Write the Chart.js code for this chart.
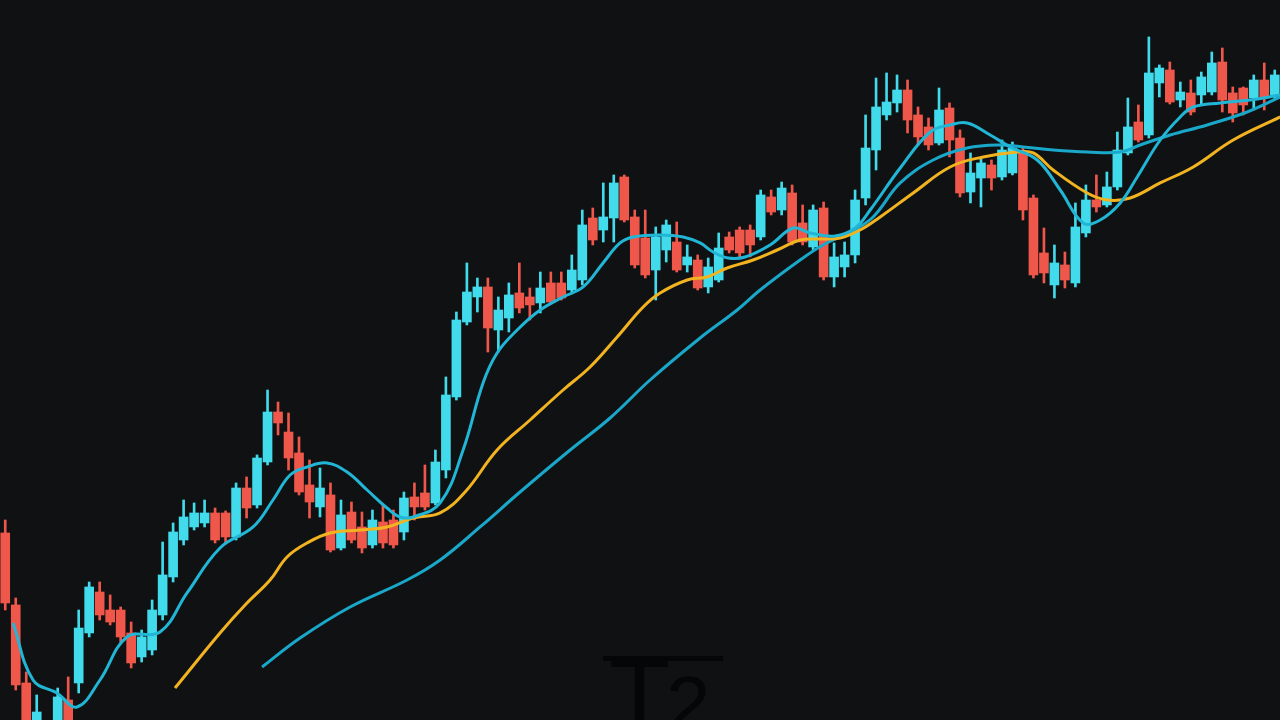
<!DOCTYPE html>
<html lang="en">
<head>
<meta charset="UTF-8">
<title>Candles</title>
<script src="https://cdn.jsdelivr.net/npm/chart.js"></script>
<style>
  html, body { margin: 0; padding: 0; background: #0f1113; overflow: hidden; }
  #wrap { position: relative; width: 1280px; height: 720px; background: #0f1113; }
  canvas { display: block; }
  .mark { position: absolute; color: #050607; font-family: 'Liberation Sans', Arial, sans-serif; line-height: 1; }
  #bar { position: absolute; left: 603px; top: 656px; width: 120px; height: 5px; background: #050607; }
</style>
</head>
<body>
<div id="wrap">
  <canvas id="chart" width="1280" height="720"></canvas>
  <div id="bar"></div>
  <span class="mark" style="left:609px; top:643px; font-size:100px;">T</span>
  <span class="mark" style="left:666px; top:665px; font-size:80px;">2</span>
</div>
<script>
// candle data, one entry per bar
const opens = [33.38, 24.38, 14.63, 7.5, 5.0, 7.5, 12.5, 14.63, 20.88, 26.0,
  23.75, 23.75, 20.88, 17.88, 18.75, 23.13, 27.88, 32.5, 34.13, 34.63,
  35.88, 35.88, 32.88, 39.0, 36.88, 42.25, 48.5, 46.0, 43.38, 39.38,
  36.63, 38.13, 31.5, 36.0, 34.13, 31.88, 34.75, 35.0, 33.5, 37.88,
  38.38, 37.13, 41.25, 50.38, 59.75, 62.88, 64.13, 58.75, 60.25, 63.38,
  62.88, 62.13, 64.63, 64.63, 63.75, 65.0, 72.75, 71.25, 72.75, 77.88,
  72.88, 70.25, 66.25, 68.75, 69.75, 66.88, 67.5, 64.13, 65.0, 70.38,
  71.25, 71.25, 70.38, 75.38, 73.75, 75.88, 72.13, 69.13, 74.0, 65.38,
  66.63, 68.13, 75.25, 81.25, 85.63, 87.13, 88.75, 85.63, 84.13, 82.13,
  86.5, 82.75, 76.0, 77.75, 79.38, 77.88, 78.38, 80.88, 75.25, 68.38,
  64.38, 66.88, 64.63, 70.88, 75.0, 74.38, 76.63, 80.88, 84.75, 83.13,
  89.63, 91.25, 87.5, 88.38, 88.13, 88.5, 92.25, 88.38, 89.0, 87.75,
  90.0, 88.13];
const highs = [35.0, 25.25, 16.0, 13.13, 9.75, 14.0, 15.38, 23.75, 27.25, 27.25,
  25.63, 24.13, 22.25, 21.25, 25.0, 32.25, 34.63, 37.5, 37.13, 37.5,
  36.5, 36.13, 39.63, 40.38, 43.13, 51.25, 49.75, 48.38, 45.38, 42.5,
  41.5, 39.63, 37.5, 37.25, 36.0, 36.25, 36.88, 36.25, 38.5, 39.63,
  41.88, 43.75, 52.88, 61.0, 67.13, 65.25, 65.25, 62.88, 64.63, 67.13,
  64.0, 66.0, 66.0, 66.0, 68.13, 73.75, 74.0, 77.13, 78.13, 78.13,
  73.75, 73.75, 71.63, 72.5, 72.25, 69.38, 68.13, 67.75, 70.88, 71.0,
  71.63, 71.88, 76.25, 76.25, 77.25, 76.88, 74.38, 74.38, 74.75, 69.63,
  69.75, 76.25, 85.63, 90.25, 90.88, 90.63, 90.0, 86.63, 85.25, 89.0,
  87.13, 83.75, 80.88, 80.38, 80.0, 82.5, 82.25, 81.5, 75.63, 71.5,
  69.38, 68.5, 74.63, 76.88, 78.13, 78.5, 83.5, 87.75, 86.88, 95.38,
  91.88, 92.25, 89.75, 90.0, 91.0, 93.5, 94.0, 89.13, 89.13, 90.63,
  92.13, 91.25];
const lows = [23.75, 13.75, 6.25, 6.25, 4.0, 6.88, 6.25, 13.38, 20.38, 22.5,
  21.88, 19.75, 16.5, 17.25, 18.13, 22.5, 27.25, 31.88, 33.75, 34.13,
  32.13, 32.13, 32.5, 35.25, 36.5, 41.88, 45.63, 41.25, 38.13, 35.25,
  35.38, 31.0, 31.25, 32.13, 30.88, 31.5, 31.5, 31.5, 32.5, 35.0,
  36.25, 36.88, 40.25, 50.0, 59.38, 61.0, 56.0, 56.0, 58.5, 60.88,
  60.0, 60.88, 62.13, 62.5, 63.5, 64.38, 69.38, 69.75, 69.75, 72.25,
  66.5, 65.25, 62.5, 67.25, 66.0, 66.0, 63.75, 63.38, 64.75, 68.38,
  67.75, 67.88, 70.0, 73.13, 73.13, 69.38, 69.38, 68.75, 65.0, 64.13,
  65.38, 67.13, 74.38, 78.75, 85.0, 86.0, 83.38, 81.88, 81.25, 81.88,
  80.38, 75.38, 74.63, 74.13, 76.25, 77.5, 78.13, 72.5, 65.25, 64.63,
  62.75, 64.0, 64.13, 70.38, 73.5, 74.13, 76.25, 80.63, 82.25, 82.75,
  87.88, 87.0, 86.63, 85.63, 86.88, 88.13, 86.0, 84.75, 85.63, 86.25,
  86.25, 87.5];
const closes = [24.63, 14.38, 7.5, 11.0, 8.75, 12.88, 6.88, 21.5, 26.63, 23.13,
  22.25, 20.38, 17.13, 20.38, 23.75, 28.13, 33.5, 35.38, 35.88, 35.88,
  32.5, 32.88, 39.0, 36.5, 42.75, 48.5, 47.13, 42.75, 38.5, 37.25,
  39.0, 31.25, 35.63, 32.5, 31.5, 35.0, 32.13, 31.88, 37.75, 36.63,
  36.63, 42.25, 50.63, 60.0, 63.5, 64.13, 59.0, 61.25, 63.13, 61.5,
  61.88, 64.0, 62.25, 62.75, 66.25, 71.88, 70.0, 72.88, 77.13, 72.5,
  66.88, 65.63, 70.38, 71.88, 66.25, 67.88, 64.0, 66.63, 69.0, 68.75,
  68.38, 69.38, 75.63, 73.5, 76.5, 69.75, 69.75, 73.75, 65.38, 67.88,
  68.13, 75.0, 81.5, 86.63, 87.25, 88.75, 85.0, 82.88, 81.88, 86.25,
  82.5, 75.88, 78.38, 79.63, 77.75, 81.25, 81.5, 73.75, 65.63, 65.88,
  67.13, 65.0, 71.63, 75.0, 74.13, 76.63, 81.25, 84.13, 82.5, 90.88,
  91.5, 87.25, 88.5, 86.0, 90.38, 92.13, 87.5, 85.88, 86.88, 90.0,
  87.75, 90.63];

// moving average curves (bar position, price)
const fastX = [0.74, 2.65, 4.93, 6.84, 9.03, 11.6, 14.75, 17.33, 20.47, 23.62,
  25.52, 27.15, 28.77, 30.67, 32.58, 34.49, 36.39, 37.63, 38.87, 41.45,
  43.64, 45.54, 46.88, 48.79, 50.98, 53.17, 55.08, 56.98, 58.6, 59.84,
  62.42, 64.61, 66.23, 67.47, 68.9, 70.52, 72.9, 75.1, 76.72, 79.1,
  81.0, 82.44, 85.3, 88.16, 90.06, 91.68, 93.88, 95.78, 98.36, 100.55,
  102.74, 104.36, 106.27, 107.89, 110.08, 111.99, 113.23, 115.8, 118.67, 121.5];
const fastY = [22.13, 15.0, 13.38, 11.63, 15.0, 20.38, 21.0, 25.88, 31.5, 34.13,
  37.5, 40.63, 41.63, 42.13, 41.0, 38.75, 36.5, 35.38, 35.38, 37.13,
  43.75, 52.13, 55.88, 58.75, 61.25, 62.88, 64.13, 67.13, 69.63, 70.38,
  70.63, 70.38, 69.63, 68.5, 67.75, 67.88, 69.38, 71.5, 70.88, 70.5,
  71.5, 73.75, 79.0, 83.5, 84.38, 84.63, 83.13, 81.63, 80.0, 76.25,
  72.13, 72.5, 74.63, 77.88, 82.5, 85.38, 86.63, 87.13, 87.5, 88.13];
const midX = [16.18, 20.47, 22.86, 25.24, 26.86, 28.77, 30.96, 33.82, 36.39, 38.87,
  41.45, 43.83, 46.88, 50.02, 53.17, 55.74, 58.32, 60.8, 62.42, 65.0,
  66.9, 68.8, 71.28, 73.57, 75.76, 77.67, 79.58, 81.48, 83.39, 86.54,
  90.06, 93.21, 96.45, 97.98, 99.88, 103.12, 105.03, 107.22, 110.08, 113.23,
  117.04, 121.52];
const midY = [14.0, 20.88, 24.38, 27.5, 30.38, 32.13, 33.38, 33.75, 34.13, 35.25,
  35.88, 38.5, 43.75, 47.5, 51.25, 54.13, 57.88, 61.63, 63.38, 65.0,
  65.38, 66.5, 67.5, 68.75, 70.0, 70.13, 70.25, 71.25, 72.88, 75.88,
  79.13, 80.38, 81.0, 80.88, 78.75, 75.88, 75.0, 75.25, 77.13, 79.13,
  82.5, 85.38];
const slowX = [24.48, 28.1, 32.87, 38.3, 41.45, 45.26, 49.07, 53.84, 57.65, 61.46,
  66.23, 69.76, 71.95, 75.76, 77.95, 80.53, 82.72, 85.3, 88.44, 91.68,
  94.83, 97.02, 99.88, 103.12, 106.27, 108.18, 111.03, 114.56, 118.37, 121.52];
const slowY = [16.63, 20.25, 24.13, 27.5, 30.0, 34.13, 38.5, 43.75, 47.75, 52.5,
  57.75, 61.25, 63.75, 67.5, 69.38, 71.0, 72.88, 77.13, 80.0, 81.5,
  81.88, 81.63, 81.25, 81.0, 81.0, 81.88, 83.13, 84.38, 86.0, 87.88];

const UP = '#41dbec', DOWN = '#f0574b';
const candleColors = opens.map((o, i) => closes[i] >= o ? UP : DOWN);

function curve(xs, ys) {
  return xs.map((x, k) => ({ x: x, y: ys[k] }));
}

new Chart(document.getElementById('chart'), {
  type: 'bar',
  data: {
    datasets: [
      {
        type: 'line', data: curve(fastX, fastY), borderColor: '#22b6d6',
        borderWidth: 3, pointRadius: 0, tension: 0.4, order: 0
      },
      {
        type: 'line', data: curve(midX, midY), borderColor: '#f2b320',
        borderWidth: 3, pointRadius: 0, tension: 0.4, order: 0
      },
      {
        type: 'line', data: curve(slowX, slowY), borderColor: '#1aa8ca',
        borderWidth: 3, pointRadius: 0, tension: 0.4, order: 0
      },
      {
        data: opens.map((o, i) => ({ x: i, y: [o, closes[i]] })),
        backgroundColor: candleColors, barThickness: 9, minBarLength: 2,
        grouped: false, order: 1
      },
      {
        data: opens.map((o, i) => ({ x: i, y: [lows[i], highs[i]] })),
        backgroundColor: candleColors, barThickness: 2,
        grouped: false, order: 2
      }
    ]
  },
  options: {
    responsive: false,
    animation: false,
    layout: { padding: 0 },
    plugins: { legend: { display: false }, tooltip: { enabled: false } },
    scales: {
      x: { type: 'linear', min: -0.5, max: 121.5, offset: false, display: false },
      y: { min: 10, max: 100, display: false }
    }
  }
});
</script>
</body>
</html>
